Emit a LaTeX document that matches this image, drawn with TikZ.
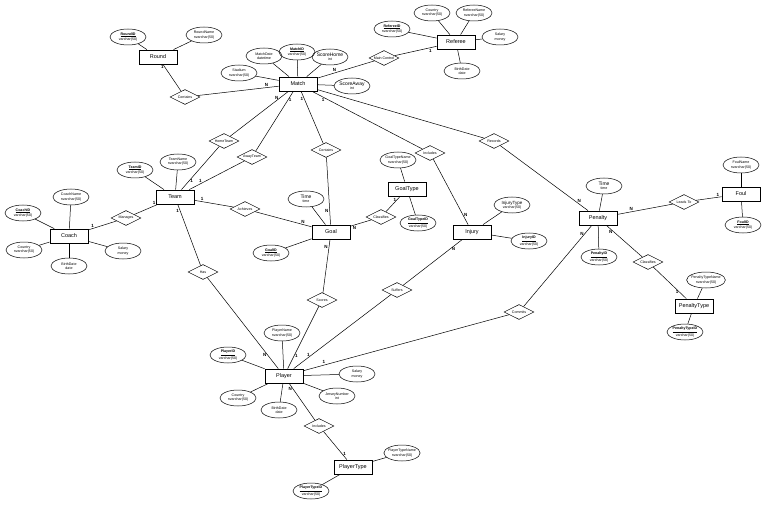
\documentclass[tikz,border=0pt]{standalone}
\usepackage{fontspec}
\setmainfont{Liberation Sans}
\usetikzlibrary{shapes.geometric}
\tikzset{
  ent/.style={draw,thick,minimum width=38pt,minimum height=14pt,inner sep=1pt,font=\fontsize{5.5}{6}\selectfont},
  attr/.style={draw,ellipse,minimum width=36pt,minimum height=16pt,inner sep=-1pt,align=center,font=\fontsize{3.6}{4.2}\selectfont},
  rel/.style={draw,diamond,aspect=2,minimum width=30pt,minimum height=15pt,inner sep=0pt,font=\fontsize{3.6}{4}\selectfont},
  card/.style={font=\bfseries\fontsize{4.5}{5}\selectfont,inner sep=1pt}
}
\newcommand{\keyattr}[1]{\underline{\textbf{#1}}}
\begin{document}
\begin{tikzpicture}[x=1pt,y=-1pt,line width=0.5pt]
\useasboundingbox (0,0) rectangle (768,505);

%entities
\node[ent] (round) at (158,57) {Round};
\node[ent] (match) at (298,84) {Match};
\node[ent] (referee) at (456,42) {Referee};
\node[ent] (team) at (175,197) {Team};
\node[ent] (coach) at (69,236) {Coach};
\node[ent] (goal) at (331,232) {Goal};
\node[ent] (goaltype) at (407,189) {GoalType};
\node[ent] (injury) at (472,232) {Injury};
\node[ent] (penalty) at (598,218) {Penalty};
\node[ent] (foul) at (741,194) {Foul};
\node[ent] (penaltytype) at (694,306) {PenaltyType};
\node[ent] (player) at (284,376) {Player};
\node[ent] (playertype) at (353,467) {PlayerType};

%attributes
\node[attr] (roundid) at (128,37) {\keyattr{RoundID}\\varchar(50)};
\node[attr] (roundname) at (204,35) {RoundName\\nvarchar(50)};
\node[attr] (stadium) at (239,73) {Stadium\\nvarchar(50)};
\node[attr] (matchdate) at (264,56) {MatchDate\\datetime};
\node[attr] (matchid) at (297,52) {\keyattr{MatchID}\\varchar(50)};
\node[attr] (scorehome) at (330,57) {\fontsize{5}{6}\selectfont ScoreHome\\int};
\node[attr] (scoreaway) at (352,86) {\fontsize{5}{6}\selectfont ScoreAway\\int};
\node[attr] (refereeid) at (392,29) {\keyattr{RefereeID}\\nvarchar(50)};
\node[attr] (refcountry) at (432,13) {Country\\nvarchar(50)};
\node[attr] (refname) at (474,13) {RefereeName\\nvarchar(50)};
\node[attr] (refsalary) at (500,37) {Salary\\money};
\node[attr] (refbirth) at (462,71) {BirthDate\\date};
\node[attr] (teamid) at (135,170) {\keyattr{TeamID}\\varchar(50)};
\node[attr] (teamname) at (178,162) {TeamName\\nvarchar(50)};
\node[attr] (coachid) at (23,213) {\keyattr{CoachID}\\varchar(50)};
\node[attr] (coachname) at (71,197) {CoachName\\nvarchar(50)};
\node[attr] (coachcountry) at (24,250) {Country\\nvarchar(50)};
\node[attr] (coachbirth) at (69,266) {BirthDate\\date};
\node[attr] (coachsalary) at (123,251) {Salary\\money};
\node[attr] (goaltime) at (306,199) {\fontsize{5}{6}\selectfont Time\\time};
\node[attr] (goalid) at (271,253) {\keyattr{GoalID}\\varchar(50)};
\node[attr] (goaltypename) at (398,160) {GoalTypeName\\nvarchar(50)};
\node[attr] (goaltypeid) at (418,223) {\keyattr{GoalTypeID}\\varchar(50)};
\node[attr] (injurytype) at (512,205) {\fontsize{4.5}{5.5}\selectfont InjuryType\\varchar(50)};
\node[attr] (injuryid) at (529,241) {\keyattr{InjuryID}\\varchar(50)};
\node[attr] (penaltytime) at (604,186) {\fontsize{5}{6}\selectfont Time\\time};
\node[attr] (penaltyid) at (599,257) {\keyattr{PenaltyID}\\varchar(50)};
\node[attr] (foulname) at (741,165) {FoulName\\nvarchar(50)};
\node[attr] (foulid) at (743,225) {\keyattr{FoulID}\\varchar(50)};
\node[attr] (ptname) at (706,280) {PenaltyTypeName\\nvarchar(50)};
\node[attr] (ptid) at (685,332) {\keyattr{PenaltyTypeID}\\varchar(50)};
\node[attr] (playerid) at (228,355) {\keyattr{PlayerID}\\varchar(50)};
\node[attr] (playername) at (282,333) {PlayerName\\nvarchar(50)};
\node[attr] (playersalary) at (357,374) {Salary\\money};
\node[attr] (jersey) at (337,396) {JerseyNumber\\int};
\node[attr] (playerbirth) at (279,410) {BirthDate\\date};
\node[attr] (playercountry) at (238,398) {Country\\nvarchar(50)};
\node[attr] (pltname) at (402,453) {PlayerTypeName\\nvarchar(50)};
\node[attr] (pltid) at (311,491) {\keyattr{PlayerTypeID}\\varchar(50)};

%relationships
\node[rel] (contains) at (185,97) {Contains};
\node[rel] (maincontrol) at (384,58) {Main Control};
\node[rel] (hometeam) at (224,141) {HomeTeam};
\node[rel] (awayteam) at (252,157) {AwayTeam};
\node[rel] (containsgoal) at (326,150) {Contains};
\node[rel] (includesinj) at (430,153) {Includes};
\node[rel] (records) at (494,141) {Records};
\node[rel] (manages) at (126,218) {Manages};
\node[rel] (achieves) at (245,209) {Achieves};
\node[rel] (has) at (203,272) {Has};
\node[rel] (classgoal) at (381,217) {Classifies};
\node[rel] (scores) at (322,300) {Scores};
\node[rel] (suffers) at (397,290) {Suffers};
\node[rel] (commits) at (519,312) {Commits};
\node[rel] (leadsto) at (684,202) {Leads To};
\node[rel] (classpen) at (648,262) {Classifies};
\node[rel] (includespl) at (319,426) {Includes};

%attribute lines
\foreach \e/\a in {round/roundid,round/roundname,match/stadium,match/matchdate,match/matchid,
  match/scorehome,match/scoreaway,referee/refereeid,referee/refcountry,referee/refname,
  referee/refsalary,referee/refbirth,team/teamid,team/teamname,coach/coachid,coach/coachname,
  coach/coachcountry,coach/coachbirth,coach/coachsalary,goal/goaltime,goal/goalid,
  goaltype/goaltypename,goaltype/goaltypeid,injury/injurytype,injury/injuryid,
  penalty/penaltytime,penalty/penaltyid,foul/foulname,foul/foulid,penaltytype/ptname,
  penaltytype/ptid,player/playerid,player/playername,player/playersalary,player/jersey,
  player/playerbirth,player/playercountry,playertype/pltname,playertype/pltid}
  \draw (\e) -- (\a);

%relationship lines
\draw (round) -- (contains) node[card,pos=0.1,left]{1};
\draw (contains) -- (match) node[card,pos=0.85,above]{N};
\draw (match) -- (maincontrol) node[card,pos=0.3,above]{N};
\draw (maincontrol) -- (referee) node[card,pos=0.85,below]{1};
\draw (match) -- (hometeam) node[card,pos=0.15,left]{N};
\draw (hometeam) -- (team) node[card,pos=0.8,right]{1};
\draw (match) -- (awayteam) node[card,pos=0.15,right]{1};
\draw (awayteam) -- (team) node[card,pos=0.8,above]{1};
\draw (match) -- (containsgoal) node[card,pos=0.15,left]{1};
\draw (containsgoal) -- (goal) node[card,pos=0.8,left]{N};
\draw (match) -- (includesinj) node[card,pos=0.1,below]{1};
\draw (includesinj) -- (injury) node[card,pos=0.85,right]{N};
\draw (match) -- (records);
\draw (records) -- (penalty) node[card,pos=0.9,above]{N};
\draw (coach) -- (manages) node[card,pos=0.15,above]{1};
\draw (manages) -- (team) node[card,pos=0.85,above]{1};
\draw (team) -- (achieves) node[card,pos=0.2,above]{1};
\draw (achieves) -- (goal) node[card,pos=0.85,above]{N};
\draw (team) -- (has) node[card,pos=0.1,left]{1};
\draw (has) -- (player) node[card,pos=0.85,left]{N};
\draw (goal) -- (classgoal) node[card,pos=0.2,below]{N};
\draw (classgoal) -- (goaltype) node[card,pos=0.8,left]{1};
\draw (player) -- (scores) node[card,pos=0.2,right]{1};
\draw (scores) -- (goal) node[card,pos=0.85,left]{N};
\draw (player) -- (suffers) node[card,pos=0.15,above]{1};
\draw (suffers) -- (injury) node[card,pos=0.85,below]{N};
\draw (player) -- (commits) node[card,pos=0.1,above]{1};
\draw (commits) -- (penalty) node[card,pos=0.9,left]{N};
\draw (penalty) -- (leadsto) node[card,pos=0.25,above]{N};
\draw (leadsto) -- (foul) node[card,pos=0.85,above]{1};
\draw (penalty) -- (classpen) node[card,pos=0.2,left]{N};
\draw (classpen) -- (penaltytype) node[card,pos=0.8,left]{1};
\draw (player) -- (includespl) node[card,pos=0.15,left]{N};
\draw (includespl) -- (playertype) node[card,pos=0.8,right]{1};

\end{tikzpicture}
\end{document}
